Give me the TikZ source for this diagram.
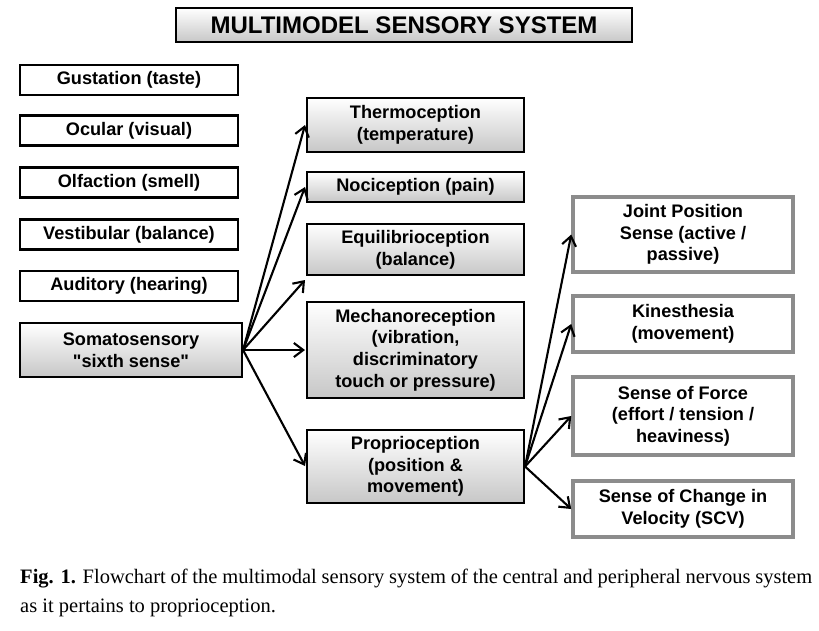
\documentclass[tikz,border=0pt]{standalone}
\usepackage{fontspec}
\setmainfont{Liberation Sans}
\newfontfamily\capfont{Liberation Serif}
\usetikzlibrary{arrows.meta}
\tikzset{
  px/.style={x=0.03cm,y=-0.03cm},
  box/.style={draw,line width=1.8pt,font=\bfseries\fontsize{15.5}{18.5}\selectfont,align=center,inner sep=0pt},
  grey box/.style={box,top color=white,bottom color=black!22},
  ring box/.style={box,draw=black!45,line width=3pt,fill=white},
  link/.style={line width=1.8pt,-{Straight Barb[length=8pt,width=12pt,line width=1.8pt]}}
}
\begin{document}
\begin{tikzpicture}[px]
\useasboundingbox (0,0) rectangle (819,630);
% title
\node [grey box,minimum width=456*0.03cm,minimum height=34*0.03cm,font=\bfseries\fontsize{20.5}{22}\selectfont] (title) at (404,25) {MULTIMODEL SENSORY SYSTEM};
% senses
\foreach \name/\y/\txt in {gus/80/Gustation (taste),ocu/130.5/Ocular (visual),olf/182.5/Olfaction (smell),ves/234.5/Vestibular (balance),aud/286/Auditory (hearing)}
  \node [box,minimum width=218*0.03cm,minimum height=30*0.03cm] (\name) at (129,\y) {\txt};
\node [grey box,minimum width=222*0.03cm,minimum height=54*0.03cm] (soma) at (131,350) {Somatosensory\\\textquotedbl sixth sense\textquotedbl};
% receptors
\node [grey box,minimum width=217*0.03cm,minimum height=54*0.03cm] (thermo) at (415.5,125) {Thermoception\\(temperature)};
\node [grey box,minimum width=217*0.03cm,minimum height=30*0.03cm] (noci) at (415.5,187) {Nociception (pain)};
\node [grey box,minimum width=217*0.03cm,minimum height=51*0.03cm] (equi) at (415.5,249.5) {Equilibrioception\\(balance)};
\node [grey box,minimum width=217*0.03cm,minimum height=96*0.03cm] (mech) at (415.5,350) {Mechanoreception\\(vibration,\\discriminatory\\touch or pressure)};
\node [grey box,minimum width=217*0.03cm,minimum height=73*0.03cm] (prop) at (415.5,466.5) {Proprioception\\(position \&\\movement)};
% proprioception parts
\node [ring box,minimum width=220*0.03cm,minimum height=75*0.03cm] (joint) at (683,234.5) {Joint Position\\Sense (active /\\passive)};
\node [ring box,minimum width=220*0.03cm,minimum height=56*0.03cm] (kin) at (683,324) {Kinesthesia\\(movement)};
\node [ring box,minimum width=220*0.03cm,minimum height=78*0.03cm] (force) at (683,416) {Sense of Force\\(effort / tension /\\heaviness)};
\node [ring box,minimum width=220*0.03cm,minimum height=56*0.03cm] (scv) at (683,509) {Sense of Change in\\Velocity (SCV)};
% links
\foreach \to/\yy in {thermo/125,noci/187,equi/280,mech/350,prop/466}
  \draw [link] (soma.east) -- (305,\yy);
\foreach \to in {joint,kin,force,scv}
  \draw [link] (prop.east) -- (\to.west);
% caption
\node [anchor=north west,inner sep=0pt,text width=792*0.03cm,align=justify,font=\capfont\fontsize{17.5}{25}\selectfont] (cap) at (20,569)
  {\textbf{Fig. 1.} Flowchart of the multimodal sensory system of the central and peripheral nervous system as it pertains to proprioception.};
\end{tikzpicture}
\end{document}
